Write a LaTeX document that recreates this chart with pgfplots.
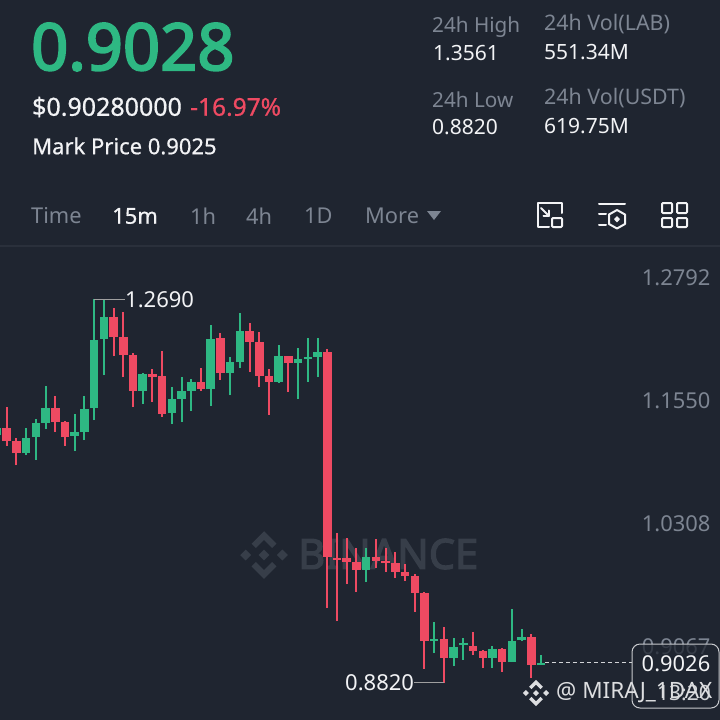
\documentclass[border=0pt]{standalone}
\usepackage{pgfplots}
\usepackage{pgfplotstable}
\usepackage{fontspec}
\pgfplotsset{compat=1.18}
\setmainfont{Noto Sans}
\newfontfamily\nsb[FakeBold=3]{Noto Sans}
\newfontfamily\nsm[FakeBold=0.7]{Noto Sans}
\definecolor{bg}{HTML}{1F2530}
\definecolor{upc}{HTML}{2EB883}
\definecolor{dnc}{HTML}{EE4A62}
\definecolor{gry}{HTML}{7D8592}
\definecolor{wht}{HTML}{F2F3F5}
\definecolor{wmk}{HTML}{373E49}
\definecolor{sep}{HTML}{2A303B}
\pgfplotstableread{
i high top bot low
-1 1.1470 1.1390 1.1319 1.1248
2 1.1390 1.1289 1.1137 1.1117
3 1.1480 1.1440 1.1299 1.1067
4 1.1813 1.1591 1.1440 1.1379
7 1.1531 1.1349 1.1309 1.1157
8 1.1712 1.1581 1.1349 1.1268
9 1.2690 1.2277 1.1591 1.1470
10 1.2681 1.2510 1.2288 1.1924
14 1.1944 1.1934 1.1763 1.1632
17 1.1803 1.1682 1.1541 1.1430
18 1.1904 1.1763 1.1682 1.1450
19 1.1884 1.1854 1.1763 1.1561
21 1.2429 1.2288 1.1783 1.1611
23 1.2106 1.2055 1.1944 1.1722
24 1.2550 1.2368 1.2055 1.1995
28 1.2227 1.2116 1.1854 1.1844
30 1.2197 1.2086 1.2045 1.1682
31 1.2298 1.2106 1.2086 1.1854
32 1.2298 1.2156 1.2106 1.1904
37 1.0179 1.0088 0.9957 0.9836
44 0.9432 0.9260 0.9240 0.9119
46 0.9271 0.9180 0.9069 0.8988
47 0.9271 0.9220 0.9200 0.9049
50 0.9190 0.9160 0.9069 0.8968
52 0.9563 0.9240 0.9028 0.9028
53 0.9361 0.9281 0.9250 0.9240
55 0.9099 0.9018 0.8998 0.8998
}\upt
\pgfplotstableread{
i high top bot low
0 1.1601 1.1390 1.1258 1.1208
1 1.1289 1.1258 1.1137 1.1016
5 1.1712 1.1591 1.1450 1.1349
6 1.1460 1.1450 1.1299 1.1208
11 1.2600 1.2510 1.2308 1.2116
12 1.2560 1.2308 1.2126 1.1904
13 1.2146 1.2126 1.1763 1.1601
15 1.1985 1.1934 1.1904 1.1652
16 1.2166 1.1914 1.1531 1.1501
20 1.1995 1.1854 1.1783 1.1763
22 1.2348 1.2298 1.1944 1.1874
25 1.2449 1.2368 1.2257 1.1955
26 1.2358 1.2257 1.1914 1.1803
27 1.1985 1.1914 1.1854 1.1521
29 1.2116 1.2116 1.2045 1.1753
33 1.2187 1.2156 1.0088 0.9573
34 1.0330 1.0078 1.0058 0.9442
35 1.0280 1.0078 1.0037 0.9815
36 1.0179 1.0037 0.9957 0.9735
38 1.0270 1.0088 1.0048 0.9977
39 1.0179 1.0048 1.0027 0.9937
40 1.0138 1.0027 0.9937 0.9876
41 1.0017 0.9937 0.9896 0.9846
42 0.9916 0.9896 0.9725 0.9533
43 0.9735 0.9725 0.9240 0.8958
45 0.9382 0.9260 0.9069 0.8820
48 0.9331 0.9190 0.9139 0.9099
49 0.9150 0.9139 0.9069 0.8968
51 0.9170 0.9160 0.9028 0.8928
54 0.9311 0.9281 0.8998 0.8867
}\dnt
\newcommand\tx[5]{\node[anchor=west,inner sep=0pt,text=#3] at (#1bp,-#2bp) {\fontsize{#4bp}{#4bp}\selectfont #5};}
\newcommand\logo[4]{\begin{scope}[shift={(#1bp,-#2bp)},x=#3bp,y=#3bp]
\fill[#4] (0,.2)--(.2,0)--(0,-.2)--(-.2,0)--cycle;
\fill[#4] (.68,.2)--(.88,0)--(.68,-.2)--(.48,0)--cycle;
\fill[#4] (-.68,.2)--(-.48,0)--(-.68,-.2)--(-.88,0)--cycle;
\fill[#4] (0,.88)--(.46,.42)--(.3,.26)--(0,.56)--(-.3,.26)--(-.46,.42)--cycle;
\fill[#4] (0,-.88)--(.46,-.42)--(.3,-.26)--(0,-.56)--(-.3,-.26)--(-.46,-.42)--cycle;
\end{scope}}
\begin{document}
\begin{tikzpicture}[x=1bp,y=1bp]
\fill[bg] (0,0) rectangle (720bp,-720bp);
\clip (0,0) rectangle (720bp,-720bp);
\draw[sep,line width=1.5bp] (0,-246bp)--(720bp,-246bp);
% watermark
\logo{264}{555}{27}{wmk}
\tx{298}{554}{wmk}{41.5}{\nsb BINANCE}
\begin{axis}[at={(0,0)},anchor=north west,scale only axis,width=720bp,height=720bp,
 xmin=-0.69,xmax=73.42,ymin=0.84432,ymax=1.5708,
 axis line style={draw=none},major tick length=0pt,xtick=\empty,
 ytick={1.2792,1.1550,1.0308,0.9067},
 yticklabel pos=right,
 yticklabel style={anchor=east,xshift=-6bp,yshift=11bp,text=gry,font=\fontsize{22}{22}\selectfont,
  /pgf/number format/fixed,/pgf/number format/fixed zerofill,/pgf/number format/precision=4,/pgf/number format/assume math mode=true},
 clip=true]
\addplot[draw=none,forget plot,error bars/.cd,y dir=plus,y explicit,error mark=none,error bar style={color=upc,line width=2bp}] table[x=i,y=low,y error plus expr=\thisrow{high}-\thisrow{low}] {\upt};
\addplot[draw=none,forget plot,error bars/.cd,y dir=plus,y explicit,error mark=none,error bar style={color=dnc,line width=2bp}] table[x=i,y=low,y error plus expr=\thisrow{high}-\thisrow{low}] {\dnt};
\addplot[draw=none,forget plot,error bars/.cd,y dir=plus,y explicit,error mark=none,error bar style={color=upc,line width=8.5bp}] table[x=i,y=bot,y error plus expr=\thisrow{top}-\thisrow{bot}] {\upt};
\addplot[draw=none,forget plot,error bars/.cd,y dir=plus,y explicit,error mark=none,error bar style={color=dnc,line width=8.5bp}] table[x=i,y=bot,y error plus expr=\thisrow{top}-\thisrow{bot}] {\dnt};
\addplot[color=gray!75!white,line width=1bp] coordinates {(9,1.2690)(12.2,1.2690)};
\addplot[color=gray!75!white,line width=1bp] coordinates {(45,0.8820)(41.9,0.8820)};
\addplot[color=wht!85!bg,line width=1bp,dash pattern=on 4bp off 3bp] coordinates {(55.4,0.9026)(64.4,0.9026)};
\end{axis}
% header
\tx{31}{47}{upc}{65}{\nsb 0.9028}
\tx{32}{107}{wht}{25}{\nsm \$0.90280000}
\tx{190}{107}{dnc}{24.5}{\nsm -16.97\%}
\tx{32}{146}{wht}{22}{\nsm Mark Price 0.9025}
\tx{432}{27}{gry}{20.7}{24h High}
\tx{433}{53}{wht}{21}{1.3561}
\tx{544}{24}{gry}{21.4}{24h Vol(LAB)}
\tx{544}{52}{wht}{21}{551.34M}
\tx{432}{100}{gry}{20.7}{24h Low}
\tx{432}{127}{wht}{21}{0.8820}
\tx{544}{98}{gry}{21.4}{24h Vol(USDT)}
\tx{544}{126}{wht}{21}{619.75M}
% toolbar
\tx{31}{216}{gry}{21.8}{Time}
\tx{112}{216}{wht}{22}{\nsm 15m}
\tx{190}{216}{gry}{21.8}{1h}
\tx{246}{216}{gry}{21.8}{4h}
\tx{304}{216}{gry}{21.8}{1D}
\tx{365}{216}{gry}{21.8}{More}
\fill[gry] (427bp,-211bp)--(441bp,-211bp)--(434bp,-220bp)--cycle;
\begin{scope}[wht,line width=2bp,line join=round,line cap=round,x=1bp,y=-1bp]
\draw (548,203)--(538,203)--(538,227)--(549,227);
\draw (548,203)--(562,203)--(562,213);
\draw[rounded corners=1bp] (552,218) rectangle (562,227);
\draw (541,208)--(549,216);
\draw (549,210.5)--(549,216)--(543.5,216);
\draw (599,204)--(625,204);
\draw (599,214)--(606,214);
\draw (599,225)--(606,225);
\draw (617,210)--(625,214.5)--(625,224)--(617,228.5)--(609,224)--(609,214.5)--cycle;
\fill (617,216)--(620,219.2)--(617,222.4)--(614,219.2)--cycle;
\draw[rounded corners=1bp] (662,203) rectangle (672,213);
\draw[rounded corners=1bp] (677,203) rectangle (687,213);
\draw[rounded corners=1bp] (662,218) rectangle (672,227);
\draw[rounded corners=1bp] (677,218) rectangle (687,227);
\end{scope}
% chart labels
\tx{125}{300}{wht}{22}{1.2690}
\tx{345}{683}{wht}{22}{0.8820}
\draw[wht!80!bg,line width=1bp,rounded corners=8bp,fill=bg,fill opacity=.75] (632bp,-644bp) rectangle (719bp,-708bp);
\node[anchor=center,inner sep=0pt,text=wht] at (676bp,-664bp) {\fontsize{22}{22}\selectfont 0.9026};
\tx{657}{693}{wht!85!bg}{21}{13:20}
\logo{536}{693}{15}{white!85!bg}
\tx{556}{693}{white!85!bg}{22.5}{@ MIRAJ\_1DAX}
\end{tikzpicture}
\end{document}
